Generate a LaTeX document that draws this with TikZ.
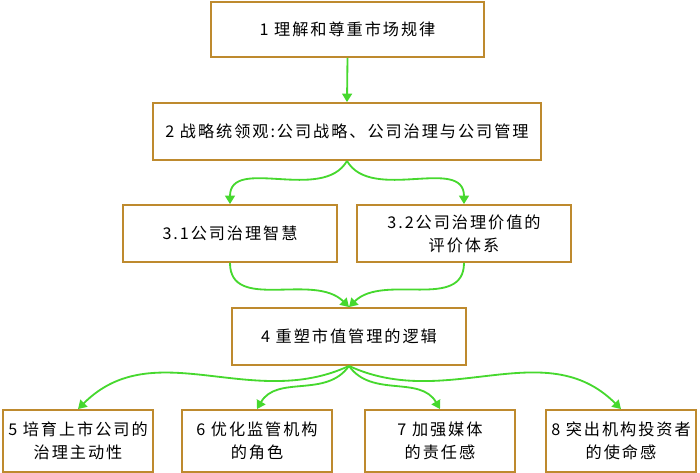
\documentclass[tikz,border=0pt]{standalone}
\usepackage{fontspec}
\newfontfamily\cjk[LetterSpace=12]{Noto Sans CJK SC}
\usetikzlibrary{arrows.meta}
\definecolor{ramka}{HTML}{BE8A2E}
\definecolor{strelka}{HTML}{46D82E}
\begin{document}
\begin{tikzpicture}[x=0.025cm, y=-0.025cm, font=\cjk\fontsize{11.5}{16.5}\selectfont,
			b/.style={draw=ramka, line width=1.3pt, fill=white, align=center, inner sep=2pt},
			e/.style={draw=strelka, line width=1.3pt, -{Triangle[length=6pt,width=7pt]}}]
			\useasboundingbox (0,0) rectangle (700,473);
			% верхние уровни
			\node[b, minimum width=6.825cm, minimum height=1.375cm] (n1) at (347.5,29.5) {1 理解和尊重市场规律};
			\node[b, minimum width=9.7cm, minimum height=1.425cm] (n2) at (347,131.5) {2 战略统领观:公司战略、公司治理与公司管理};
			\node[b, minimum width=5.35cm, minimum height=1.425cm] (n31) at (230,233.5) {3.1公司治理智慧};
			\node[b, minimum width=5.35cm, minimum height=1.425cm] (n32) at (464,233.5) {3.2公司治理价值的\\评价体系};
			\node[b, minimum width=5.85cm, minimum height=1.425cm] (n4) at (349,336.5) {4 重塑市值管理的逻辑};
			% нижний ряд
			\foreach \k/\x/\t in {5/78/{5 培育上市公司的\\治理主动性}, 6/257/{6 优化监管机构\\的角色},
				7/440/{7 加强媒体\\的责任感}, 8/621/{8 突出机构投资者\\的使命感}}{
				\node[b, minimum width=3.75cm, minimum height=1.55cm] (n\k) at (\x,441) {\t};
			}
			% стрелки
			\draw[e] (n1.south) -- (n2.north);
			\draw[e] (n2.south) to[out=240, in=90] (n31.north);
			\draw[e] (n2.south) to[out=300, in=90] (n32.north);
			\draw[e] (n31.south) to[out=270, in=135] (n4.north);
			\draw[e] (n32.south) to[out=270, in=45] (n4.north);
			\foreach \k/\o/\i in {5/205/45, 6/235/60, 7/305/120, 8/335/135}{
				\draw[e] (n4.south) to[out=\o, in=\i] (n\k.north);
			}
		\end{tikzpicture}
\end{document}
